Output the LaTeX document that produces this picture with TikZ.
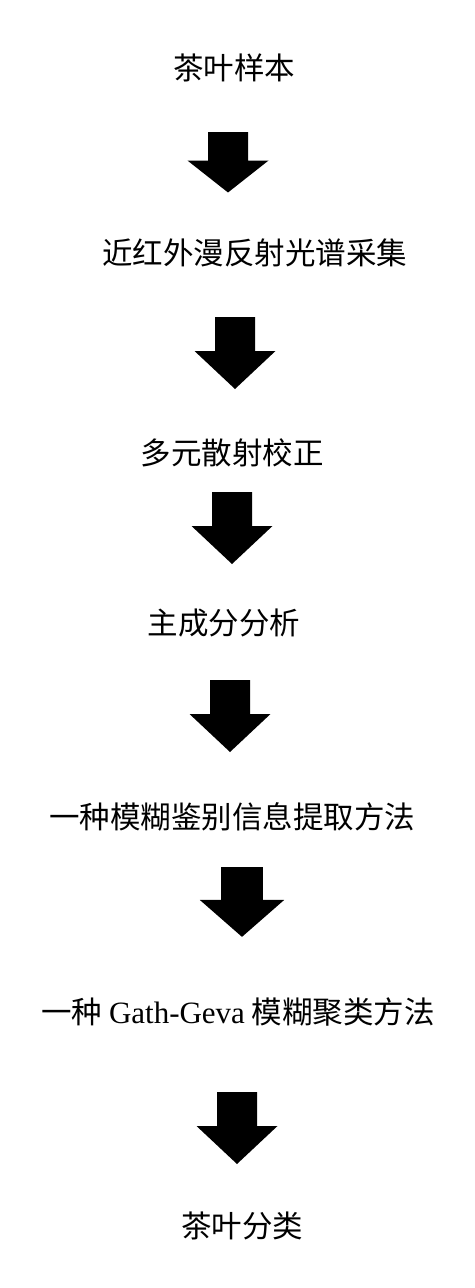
\documentclass[tikz,border=0pt]{standalone}
\usepackage{fontspec}
\setmainfont{Liberation Serif}
\newfontfamily\cjk{Noto Sans CJK SC}
\usepackage{tikz}
\usetikzlibrary{positioning}

\tikzset{
    steptext/.style={inner sep=0pt, font=\cjk\fontsize{30.5}{36}\selectfont},
    blockarrow/.pic={
        \fill[black] (-20,0) -- (20,0) -- (20,34) -- (40.5,34) -- (0,72)
            -- (-40.5,34) -- (-20,34) -- cycle;
    }
}

\begin{document}
\begin{tikzpicture}[x=1pt, y=-1pt]
    \useasboundingbox (0,0) rectangle (474,1288);

    \node[steptext] (sample)  at (234,68)    {茶叶样本};
    \node[steptext] (nir)     at (254.5,253) {近红外漫反射光谱采集};
    \node[steptext] (msc)     at (232,453)   {多元散射校正};
    \node[steptext] (pca)     at (224,623)   {主成分分析};
    \node[steptext] (fuzzy)   at (232,817)   {一种模糊鉴别信息提取方法};
    \node[steptext] (gg)      at (238,1012)
        {一种\ {\rmfamily\fontsize{31}{36}\selectfont Gath-Geva}\ 模糊聚类方法};
    \node[steptext] (classes) at (242,1226)  {茶叶分类};

    % block arrows between the steps
    \pic[yscale=0.84] (a1) at (228,132)  {blockarrow};
    \pic (a2) at (235,317)  {blockarrow};
    \pic (a3) at (232,492)  {blockarrow};
    \pic (a4) at (230,680)  {blockarrow};
    \pic[xscale=1.04, yscale=0.97] (a5) at (242,867) {blockarrow};
    \pic (a6) at (237,1092) {blockarrow};
\end{tikzpicture}
\end{document}
